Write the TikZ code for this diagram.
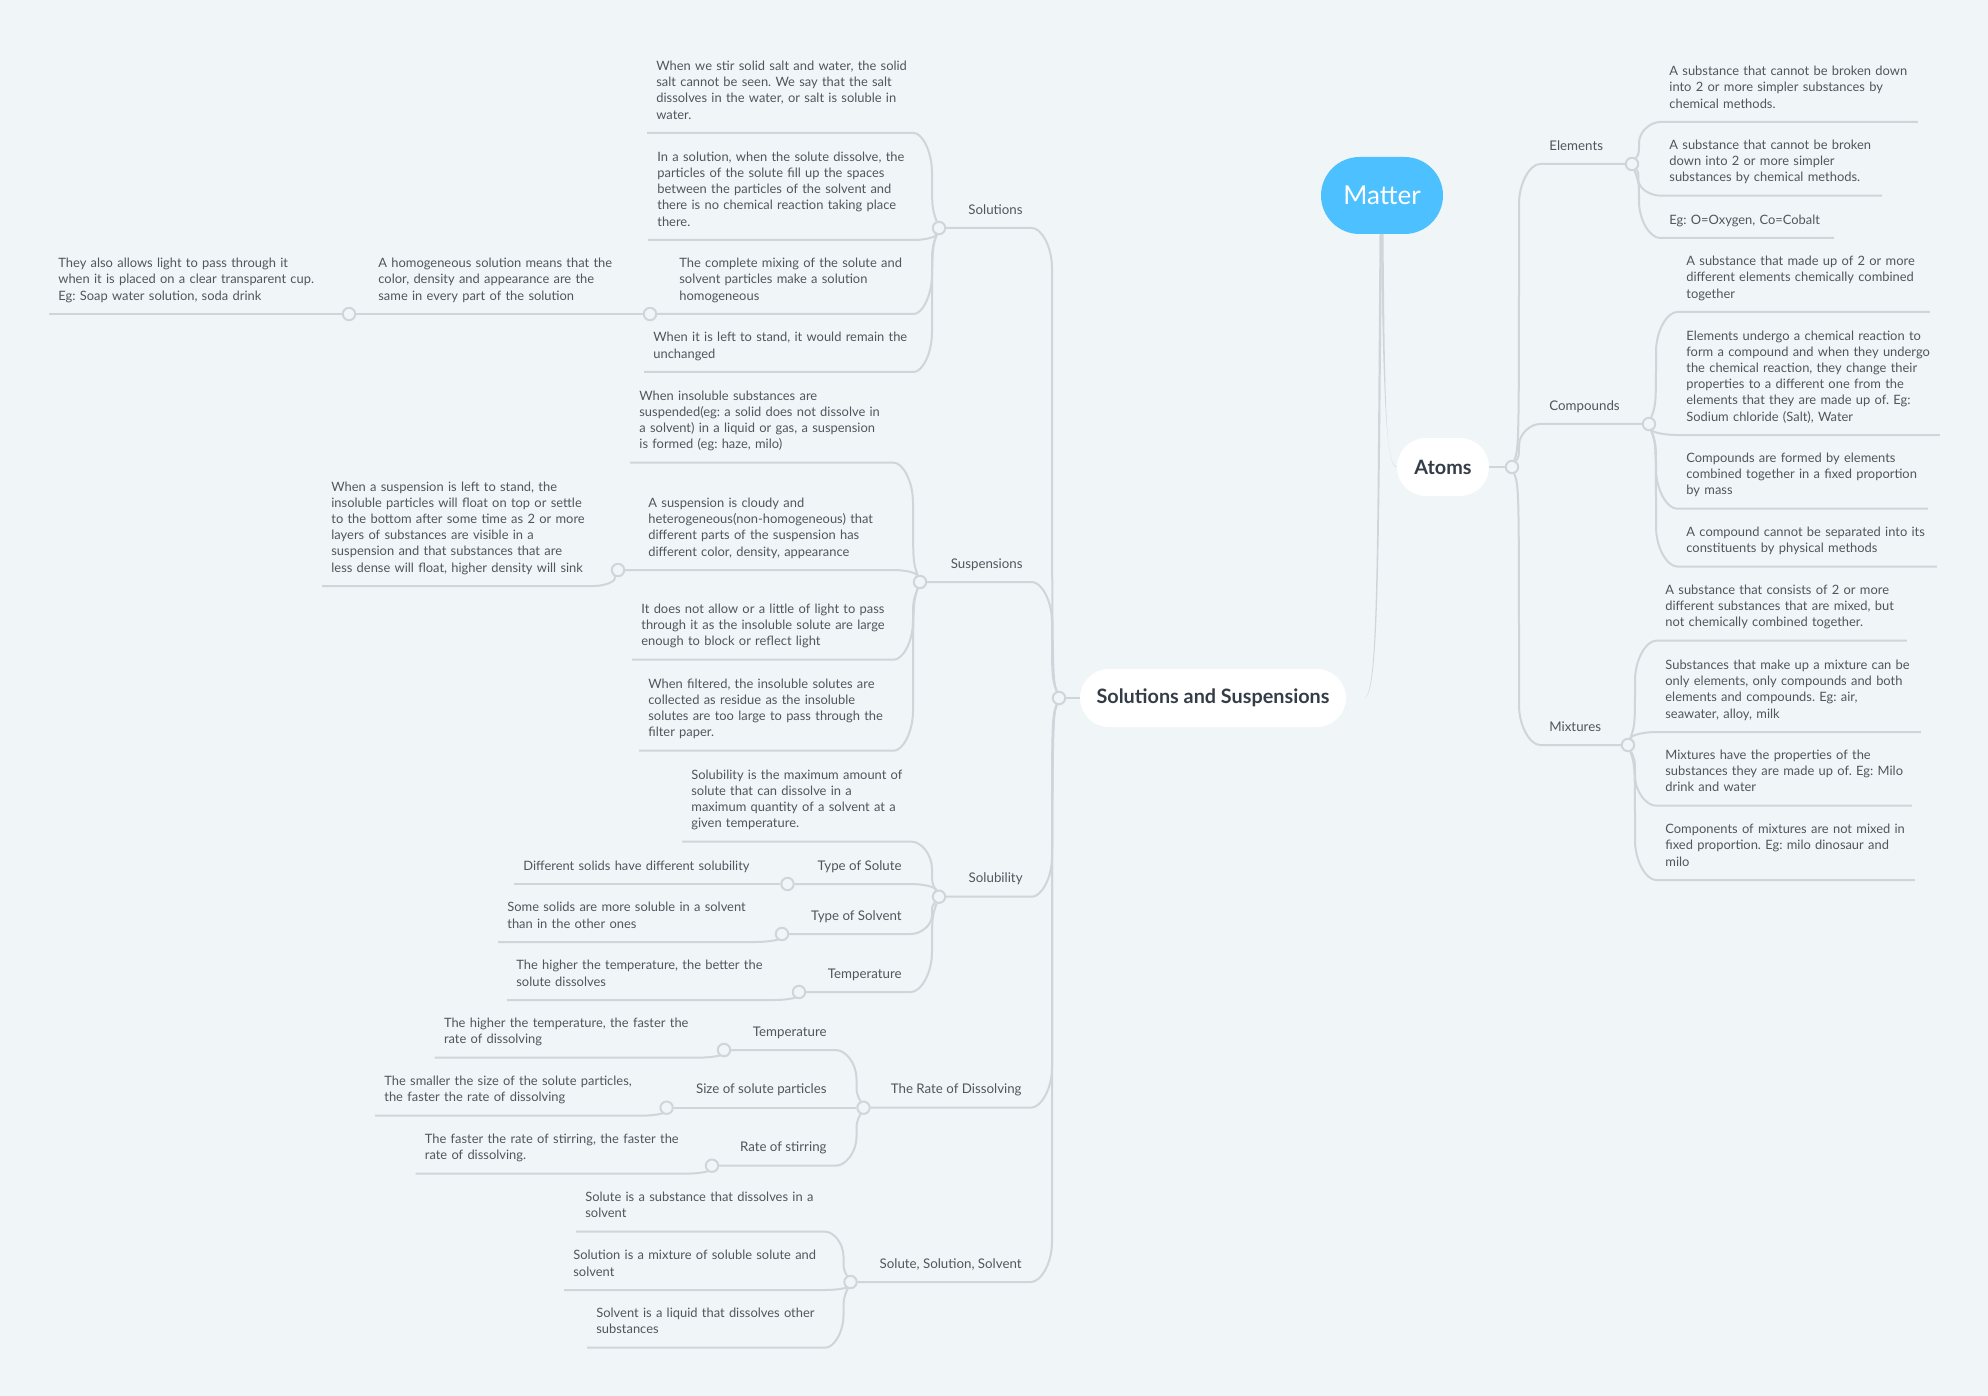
\documentclass[tikz,border=0pt]{standalone}
\usepackage{fontspec}
\setmainfont{Lato}
\usetikzlibrary{shapes.misc, positioning, backgrounds, calc}
\definecolor{bgblue}{HTML}{F0F5F8}
\definecolor{linkgrey}{HTML}{CFD5D9}
\definecolor{textgrey}{HTML}{50565C}
\definecolor{pilltext}{HTML}{333C47}
\definecolor{matterblue}{HTML}{4DC1FF}
\tikzstyle{mainlink}=[draw=linkgrey,line width=1pt]
\tikzstyle{thinlink}=[fill=linkgrey]
\tikzstyle{hub}=[shape=circle,draw=linkgrey,line width=1pt,fill=bgblue,minimum size=6.2pt,inner sep=0pt]
\tikzstyle{pill}=[shape=rounded rectangle,fill=white,text=pilltext,inner sep=0pt,font=\fontsize{9.9}{11}\selectfont\bfseries]
\tikzstyle{topic}=[text=textgrey,inner xsep=4.5pt,inner ysep=4.3pt,font=\fontsize{6.65}{8.1}\selectfont,execute at end node={\strut}]
\tikzset{leaf/.style={topic,anchor=south west,inner xsep=0pt,text width=#1*0.5pt,font=\fontsize{6.45}{8.1}\selectfont,
  execute at begin node={\raggedright\leftskip=4.5pt\frenchspacing}}}
\tikzset{branch/.style={to path={
  let \p1=(\tikztostart),\p2=(\tikztotarget),
  \n1={(\x2>\x1)?1:-1},\n2={(\y2>\y1)?1:-1},
  \n3={min(0.5*abs(\y2-\y1),20pt)},\n4={min(3.5pt,0.2*abs(\y2-\y1))},
  \n5={\x1+\n1*\n4} in
  .. controls (\n5,{\y1+\n2*\n3*0.5}) .. (\n5,{\y2-\n2*\n3})
  .. controls (\n5,{\y2-\n2*\n3*0.45}) and ({\n5+0.55*(\x2-\n5)},\y2) .. (\p2)}}}
\begin{document}
\begin{tikzpicture}[x=0.5pt,y=-0.5pt]
\useasboundingbox (0,0) rectangle (1988,1396);
% Central topics
\node[pill,fill=matterblue,text=white,minimum width=61pt,minimum height=38.5pt,font=\fontsize{13}{16}\selectfont] (matter) at (1382,195.5) {Matter};
\node[pill,minimum width=46pt,minimum height=29pt] (atoms) at (1443,467) {Atoms};
\node[pill,minimum width=133pt,minimum height=29pt] (root) at (1213,698) {Solutions and Suspensions};
\node[hub] (h_at) at (1512,467) {};
\node[hub] (h_root) at (1059,698) {};
\coordinate (m_a) at (1381,234);
\coordinate (m_b) at (1383.5,234);
\coordinate (m_c) at (1379.5,234);
\coordinate (m_d) at (1382,234);
\coordinate (rootend) at (1364,698);
% Elements
\node[topic,anchor=south west] (el) at (1540,164) {Elements};
\node[hub] (h_el) at (1632,164) {};
\node[leaf=257] (el_1) at (1660,122) {A substance that cannot be broken down\\into 2 or more simpler substances by\\chemical methods.};
\node[leaf=221] (el_2) at (1660,195.6) {A substance that cannot be broken\\down into 2 or more simpler\\substances by chemical methods.};
\node[leaf=173] (el_3) at (1660,238) {Eg: O=Oxygen, Co=Cobalt};
% Compounds
\node[topic,anchor=south west] (co) at (1540,424) {Compounds};
\node[hub] (h_co) at (1649,424) {};
\node[leaf=252] (co_1) at (1677,312) {A substance that made up of 2 or more\\different elements chemically combined\\together};
\node[leaf=262] (co_2) at (1677,435) {Elements undergo a chemical reaction to\\form a compound and when they undergo\\the chemical reaction, they change their\\properties to a different one from the\\elements that they are made up of. Eg:\\Sodium chloride (Salt), Water};
\node[leaf=250] (co_3) at (1677,508.7) {Compounds are formed by elements\\combined together in a fixed proportion\\by mass};
\node[leaf=259] (co_4) at (1677,566.5) {A compound cannot be separated into its\\constituents by physical methods};
% Mixtures
\node[topic,anchor=south west] (mi) at (1540,745) {Mixtures};
\node[hub] (h_mi) at (1628,745) {};
\node[leaf=250] (mi_1) at (1656,640.7) {A substance that consists of 2 or more\\different substances that are mixed, but\\not chemically combined together.};
\node[leaf=264] (mi_2) at (1656,732) {Substances that make up a mixture can be\\only elements, only compounds and both\\elements and compounds. Eg: air,\\seawater, alloy, milk};
\node[leaf=255] (mi_3) at (1656,805.7) {Mixtures have the properties of the\\substances they are made up of. Eg: Milo\\drink and water};
\node[leaf=258] (mi_4) at (1656,880) {Components of mixtures are not mixed in\\fixed proportion. Eg: milo dinosaur and\\milo};
% Solutions
\node[topic,anchor=south east] (so) at (1032,228) {Solutions};
\node[hub] (h_so) at (939,228) {};
\node[leaf=266] (so_1) at (647,133) {When we stir solid salt and water, the solid\\salt cannot be seen. We say that the salt\\dissolves in the water, or salt is soluble in\\water.};
\node[leaf=265] (so_2) at (648,240) {In a solution, when the solute dissolve, the\\particles of the solute fill up the spaces\\between the particles of the solvent and\\there is no chemical reaction taking place\\there.};
\node[leaf=243] (so_3) at (670,314) {The complete mixing of the solute and\\solvent particles make a solution\\homogeneous};
\node[leaf=269] (so_4) at (644,372) {When it is left to stand, it would remain the\\unchanged};
\node[hub] (h_so3) at (650,314) {};
\node[leaf=263] (so_5) at (369,314) {A homogeneous solution means that the\\color, density and appearance are the\\same in every part of the solution};
\node[hub] (h_so5) at (349,314) {};
\node[leaf=281] (so_6) at (49,314) {They also allows light to pass through it\\when it is placed on a clear transparent cup.\\Eg: Soap water solution, soda drink};
% Suspensions
\node[topic,anchor=south east] (su) at (1032,582) {Suspensions};
\node[hub] (h_su) at (920,582) {};
\node[leaf=263] (su_1) at (630,462.7) {When insoluble substances are\\suspended(eg: a solid does not dissolve in\\a solvent) in a liquid or gas, a suspension\\is formed (eg: haze, milo)};
\node[leaf=254] (su_2) at (639,570) {A suspension is cloudy and\\heterogeneous(non-homogeneous) that\\different parts of the suspension has\\different color, density, appearance};
\node[leaf=261] (su_3) at (632,659.7) {It does not allow or a little of light to pass\\through it as the insoluble solute are large\\enough to block or reflect light};
\node[leaf=254] (su_4) at (639,750.7) {When filtered, the insoluble solutes are\\collected as residue as the insoluble\\solutes are too large to pass through the\\filter paper.};
\node[hub] (h_su2) at (618,570) {};
\node[leaf=271] (su_5) at (322,586) {When a suspension is left to stand, the\\insoluble particles will float on top or settle\\to the bottom after some time as 2 or more\\layers of substances are visible in a\\suspension and that substances that are\\less dense will float, higher density will sink};
% Solubility
\node[topic,anchor=south east] (sb) at (1032,896.7) {Solubility};
\node[hub] (h_sb) at (939,896.7) {};
\node[leaf=229] (sb_1) at (682,841.7) {Solubility is the maximum amount of\\solute that can dissolve in a\\maximum quantity of a solvent at a\\given temperature.};
\node[topic,anchor=south east] (sb_t1) at (911,884) {Type of Solute};
\node[hub] (h_t1) at (787.5,884) {};
\node[leaf=256] (sb_2) at (514,884) {Different solids have different solubility};
\node[topic,anchor=south east] (sb_t2) at (911,934) {Type of Solvent};
\node[hub] (h_t2) at (782,934) {};
\node[leaf=256] (sb_3) at (498,942) {Some solids are more soluble in a solvent\\than in the other ones};
\node[topic,anchor=south east] (sb_t3) at (911,992) {Temperature};
\node[hub] (h_t3) at (799,992) {};
\node[leaf=267] (sb_4) at (507,1000) {The higher the temperature, the better the\\solute dissolves};
% The Rate of Dissolving
\node[topic,anchor=south east] (ra) at (1031,1107.7) {The Rate of Dissolving};
\node[hub] (h_ra) at (863.5,1107.7) {};
\node[topic,anchor=south east] (ra_t1) at (836,1050) {Temperature};
\node[hub] (h_r1) at (724,1050) {};
\node[leaf=262] (ra_1) at (434.6,1057.7) {The higher the temperature, the faster the\\rate of dissolving};
\node[topic,anchor=south east] (ra_t2) at (836,1107.7) {Size of solute particles};
\node[hub] (h_r2) at (666.6,1107.7) {};
\node[leaf=265] (ra_2) at (375,1115.7) {The smaller the size of the solute particles,\\the faster the rate of dissolving};
\node[topic,anchor=south east] (ra_t3) at (836,1165.7) {Rate of stirring};
\node[hub] (h_r3) at (712,1165.7) {};
\node[leaf=268.5] (ra_3) at (415.5,1173.7) {The faster the rate of stirring, the faster the\\rate of dissolving.};
% Solute, Solution, Solvent
\node[topic,anchor=south east] (sl) at (1031,1282) {Solute, Solution, Solvent};
\node[hub] (h_sl) at (850.5,1282) {};
\node[leaf=248.5] (sl_1) at (576,1231.7) {Solute is a substance that dissolves in a\\solvent};
\node[leaf=260.5] (sl_2) at (564,1290) {Solution is a mixture of soluble solute and\\solvent};
\node[leaf=237.5] (sl_3) at (587,1347.7) {Solvent is a liquid that dissolves other\\substances};
% Connectors
\begin{scope}[on background layer]
\fill[bgblue] (0,0) rectangle (1988,1396);
\fill[thinlink] (m_a) .. controls (1383,420) and (1388,467) .. (atoms.west) .. controls (1386,462) and (1385,420) .. (m_b) -- cycle;
\fill[thinlink] (m_c) .. controls (1377,560) and (1378,698) .. (rootend) .. controls (1379,698) and (1379,560) .. (m_d) -- cycle;
\draw[mainlink] (atoms.east) -- (h_at);
\draw[mainlink] (root.west) -- (h_root);
\draw[mainlink] (h_at) to[branch] (el.south west) -- (h_el);
\draw[mainlink] (h_at) to[branch] (co.south west) -- (h_co);
\draw[mainlink] (h_at) to[branch] (mi.south west) -- (h_mi);
\foreach \a in {el_1,el_2,el_3} \draw[mainlink] (h_el) to[branch] (\a.south west) -- (\a.south east);
\foreach \a in {co_1,co_2,co_3,co_4} \draw[mainlink] (h_co) to[branch] (\a.south west) -- (\a.south east);
\foreach \a in {mi_1,mi_2,mi_3,mi_4} \draw[mainlink] (h_mi) to[branch] (\a.south west) -- (\a.south east);
\draw[mainlink] (h_root) to[branch] (so.south east) -- (h_so);
\draw[mainlink] (h_root) to[branch] (su.south east) -- (h_su);
\draw[mainlink] (h_root) to[branch] (sb.south east) -- (h_sb);
\draw[mainlink] (h_root) to[branch] (ra.south east) -- (h_ra);
\draw[mainlink] (h_root) to[branch] (sl.south east) -- (h_sl);
\foreach \a in {so_1,so_2,so_4} \draw[mainlink] (h_so) to[branch] (\a.south east) -- (\a.south west);
\draw[mainlink] (h_so) to[branch] (so_3.south east) -- (h_so3);
\draw[mainlink] (h_so3) -- (so_5.south east) -- (h_so5);
\draw[mainlink] (h_so5) -- (so_6.south west);
\foreach \a in {su_1,su_3,su_4} \draw[mainlink] (h_su) to[branch] (\a.south east) -- (\a.south west);
\draw[mainlink] (h_su) to[branch] (su_2.south east) -- (h_su2);
\draw[mainlink] (h_su2) to[branch] (su_5.south east) -- (su_5.south west);
\draw[mainlink] (h_sb) to[branch] (sb_1.south east) -- (sb_1.south west);
\draw[mainlink] (h_sb) to[branch] (sb_t1.south east) -- (h_t1);
\draw[mainlink] (h_sb) to[branch] (sb_t2.south east) -- (h_t2);
\draw[mainlink] (h_sb) to[branch] (sb_t3.south east) -- (h_t3);
\draw[mainlink] (h_t1) -- (sb_2.south west);
\draw[mainlink] (h_t2) to[branch] (sb_3.south east) -- (sb_3.south west);
\draw[mainlink] (h_t3) to[branch] (sb_4.south east) -- (sb_4.south west);
\draw[mainlink] (h_ra) to[branch] (ra_t1.south east) -- (h_r1);
\draw[mainlink] (h_ra) -- (h_r2);
\draw[mainlink] (h_ra) to[branch] (ra_t3.south east) -- (h_r3);
\draw[mainlink] (h_r1) to[branch] (ra_1.south east) -- (ra_1.south west);
\draw[mainlink] (h_r2) to[branch] (ra_2.south east) -- (ra_2.south west);
\draw[mainlink] (h_r3) to[branch] (ra_3.south east) -- (ra_3.south west);
\foreach \a in {sl_1,sl_2,sl_3} \draw[mainlink] (h_sl) to[branch] (\a.south east) -- (\a.south west);
\end{scope}
\end{tikzpicture}
\end{document}
